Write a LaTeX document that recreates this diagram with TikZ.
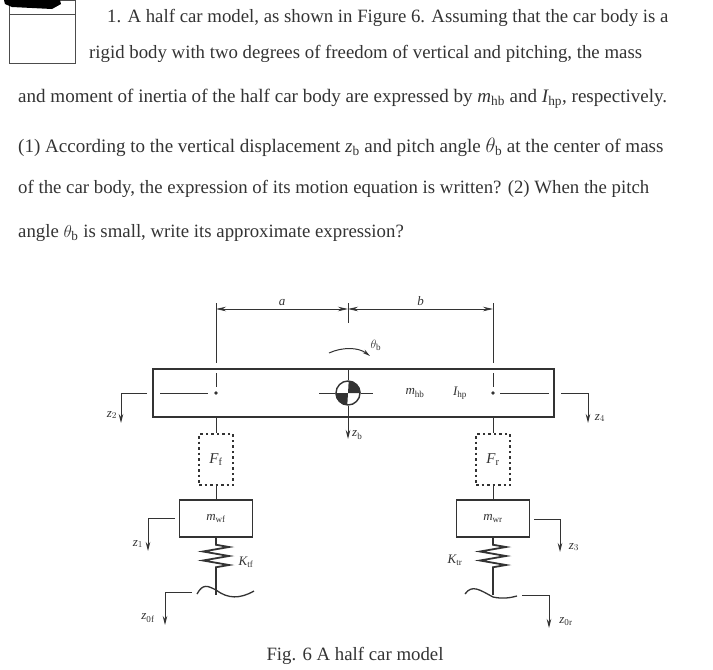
\documentclass[tikz,border=0pt]{standalone}
\usepackage{fontspec}
\setmainfont{Liberation Serif}
\usetikzlibrary{calc}
\usetikzlibrary{positioning}
\usetikzlibrary{arrows.meta}
\usetikzlibrary{decorations.pathmorphing}
\tikzset{
    para/.style = {anchor = west, inner sep = 0pt, font = \fontsize{18.8}{20}\selectfont},
    lab/.style = {inner sep = 0pt, font = \fontsize{13}{15}\selectfont},
    frame/.style = {draw, line width = 1.7pt, inner sep = 0pt, fill = white},
    forcebox/.style = {draw, dash pattern = on 2.5pt off 3pt, line width = 1.1pt, minimum width = 34pt, minimum height = 51pt, inner sep = 0pt},
    wheelbox/.style = {draw, line width = 1.5pt, minimum width = 73pt, minimum height = 37pt, inner sep = 0pt},
    thin line/.style = {line width = 1pt},
    down/.style = {line width = 1pt, -{Stealth[length = 9pt, width = 4.5pt]}},
    dim/.style = {line width = 0.8pt, {Stealth[length = 10pt, width = 4.5pt]}-{Stealth[length = 10pt, width = 4.5pt]}},
    coil/.style = {line width = 1.8pt, decorate, decoration = {zigzag, segment length = 9pt, amplitude = 13pt, pre length = 7pt, post length = 8pt}}
}

\begin{document}
\begin{tikzpicture}[x = 1pt, y = -1pt, black!80]
    \useasboundingbox (0,0) rectangle (713,670);

    % the text
    \node[para] (L1) at (107,18) {1. A half car model, as shown in Figure 6. Assuming that the car body is a};
    \node[para] (L2) at (89,54) {rigid body with two degrees of freedom of vertical and pitching, the mass};
    \node[para, font = \fontsize{19.05}{20}\selectfont] (L3) at (18,98.5) {and moment of inertia of the half car body are expressed by $\mathit{m}_{\mathrm{hb}}$ and $\mathit{I}_{\mathrm{hp}}$, respectively.};
    \node[para, font = \fontsize{19.05}{20}\selectfont] (L4) at (18,147.5) {(1) According to the vertical displacement $\mathit{z}_{\mathrm{b}}$ and pitch angle $\theta_{\mathrm{b}}$ at the center of mass};
    \node[para] (L5) at (18,189) {of the car body, the expression of its motion equation is written? (2) When the pitch};
    \node[para] (L6) at (18,233) {angle $\theta_{\mathrm{b}}$ is small, write its approximate expression?};

    % box top left
    \draw[line width = 1pt, black!70] (9,0) rectangle (75,63);
    \draw[line width = 1pt, black!70] (9,14) -- (75,14);
    \fill[black] (4,0) -- (60,0) -- (61,4) -- (52,9) -- (12,7) -- (5,4) -- cycle;

    % car body
    \node[frame, minimum width = 401pt, minimum height = 48pt] (body) at (353.5,393) {};
    \node (F) at (216,393) [circle, fill, inner sep = 1.4pt] {};
    \node (R) at (493,393) [circle, fill, inner sep = 1.4pt] {};
    \node (CG) at (348,393) [circle, draw, line width = 1.4pt, fill = white, minimum size = 24pt, inner sep = 0pt] {};
    \fill (CG.center) -- (CG.east) arc (0:90:12pt) -- cycle;
    \fill (CG.center) -- (CG.west) arc (180:270:12pt) -- cycle;

    % dimensions
    \coordinate (Dl) at (216,309);
    \coordinate (Dm) at (348,309);
    \coordinate (Dr) at (493,309);
    \draw[dim] (Dl) -- node[lab, above = 3pt] (a) {$\mathit{a}$} (Dm);
    \draw[dim] (Dm) -- node[lab, above = 3pt] (b) {$\mathit{b}$} (Dr);
    \draw[thin line] (216,303) -- (216,363);
    \draw[thin line] (348,303) -- (348,323);
    \draw[thin line] (493,303) -- (493,363);
    \draw[thin line] (216,373) -- (216,387);
    \draw[thin line] (493,373) -- (493,387);

    % centre of mass
    \draw[thin line] (319,393) -- (CG.west);
    \draw[thin line] (CG.east) -- (373,393);
    \draw[thin line] (348,370) -- (CG.north);
    \coordinate (Zb) at (348,439);
    \draw[down] (CG.south) -- (Zb);
    \node[lab, right = 4pt of Zb, yshift = 4pt] (zb) {$\mathit{z}_{\mathrm{b}}$};
    \coordinate (Ta) at (329,353);
    \coordinate (Tb) at (370,356);
    \draw[line width = 1pt, -{Stealth[length = 8pt, width = 4pt]}] (Ta) .. controls (342,347) and (358,347) .. (Tb);
    \node[lab] (th) at (376,345) {$\theta_{\mathrm{b}}$};
    \node[lab] (mhb) at (415,393) {$\mathit{m}_{\mathrm{hb}}$};
    \node[lab] (ihp) at (460,393) {$\mathit{I}_{\mathrm{hp}}$};

    % front and rear struts, x position then name
    \foreach \px/\sn/\fl/\ml in {216/f/{\mathit{F}_{\mathrm{f}}}/{\mathit{m}_{\mathrm{wf}}}, 493/r/{\mathit{F}_{\mathrm{r}}}/{\mathit{m}_{\mathrm{wr}}}}{
        \node[forcebox] (F\sn) at (\px,459.5) {};
        \node[lab, font = \fontsize{15}{17}\selectfont] (Fl\sn) at (F\sn) {$\fl$};
        \node[wheelbox, font = \fontsize{13}{15}\selectfont] (W\sn) at (\px,518.5) {$\ml$};
        \coordinate (S\sn) at (\px,417);
        \coordinate (K\sn) at (\px,578);
        \draw[thin line] (S\sn) -- (F\sn.north);
        \draw[thin line] (F\sn.south) -- (W\sn.north);
        \draw[coil] (W\sn.south) -- (K\sn);
        \draw[line width = 1.3pt] (K\sn) -- (\px,595);
    }

    % road
    \draw[line width = 1.3pt] (197,594) .. controls (203,583) and (208,586) .. (216,590) .. controls (228,599) and (240,599) .. (254,591);
    \draw[line width = 1.3pt] (465,594) .. controls (472,584) and (480,590) .. (493,597) .. controls (502,599) and (510,598) .. (517,596);
    \node[lab] (Ktf) at (246,562) {$\mathit{K}_{\mathrm{tf}}$};
    \node[lab] (Ktr) at (455,560) {$\mathit{K}_{\mathrm{tr}}$};

    % the displacements
    \draw[thin line] (160,393) -- (208,393);
    \draw[thin line] (500,393) -- (549,393);
    \draw[down] (147,393) -- (121,393) -- (121,423);
    \node[lab] (z2) at (112,415) {$\mathit{z}_2$};
    \draw[down] (175,518) -- (148,518) -- (148,551);
    \node[lab] (z1) at (138,544) {$\mathit{z}_1$};
    \draw[down] (192,592) -- (165,592) -- (165,625);
    \node[lab] (z0f) at (148,618) {$\mathit{z}_{\mathrm{0f}}$};
    \draw[down] (561,393) -- (588,393) -- (588,423);
    \node[lab] (z4) at (600,418) {$\mathit{z}_4$};
    \draw[down] (534,519) -- (560,519) -- (560,552);
    \node[lab] (z3) at (574,547) {$\mathit{z}_3$};
    \draw[down] (522,595) -- (549,595) -- (549,628);
    \node[lab] (z0r) at (566,622) {$\mathit{z}_{\mathrm{0r}}$};

    \node[para, anchor = center] (cap) at (355,656) {Fig. 6 A half car model};
\end{tikzpicture}
\end{document}
